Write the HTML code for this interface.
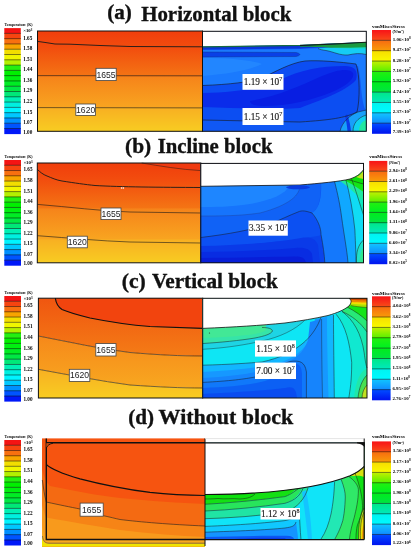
<!DOCTYPE html><html><head><meta charset="utf-8"><title>Temperature and von Mises stress</title><style>
html,body{margin:0;padding:0;background:#fff;width:415px;height:550px;overflow:hidden}
svg{display:block}
.tt{font-family:"Liberation Serif",serif;font-weight:bold;fill:#111;stroke:#111;stroke-width:0.35}
.cb{font-family:"Liberation Serif",serif;font-weight:bold;fill:#000}
.lb{font-family:"Liberation Sans",sans-serif;fill:#222}
.sl{font-family:"Liberation Serif",serif;fill:#222;stroke:#222;stroke-width:0.15}
</style></head><body>
<svg width="415" height="550" viewBox="0 0 415 550">
<defs>
<linearGradient id="tg" x1="0" y1="0" x2="0" y2="1">
<stop offset="0" stop-color="#f03e0c"/><stop offset="0.16" stop-color="#f24c0e"/>
<stop offset="0.45" stop-color="#f47414"/><stop offset="0.46" stop-color="#f6841a"/>
<stop offset="0.76" stop-color="#f8a420"/><stop offset="0.77" stop-color="#f8b022"/>
<stop offset="1" stop-color="#f8cc22"/></linearGradient>
<linearGradient id="sg0" x1="0" y1="0" x2="0" y2="1"><stop offset="0.1" stop-color="#f81818"/><stop offset="0.9" stop-color="#f84818"/></linearGradient>
<linearGradient id="sg1" x1="0" y1="0" x2="0" y2="1"><stop offset="0.1" stop-color="#f87010"/><stop offset="0.9" stop-color="#f89808"/></linearGradient>
<linearGradient id="sg2" x1="0" y1="0" x2="0" y2="1"><stop offset="0.1" stop-color="#f8e000"/><stop offset="0.9" stop-color="#f8f800"/></linearGradient>
<linearGradient id="sg3" x1="0" y1="0" x2="0" y2="1"><stop offset="0.1" stop-color="#b8f000"/><stop offset="0.9" stop-color="#60f000"/></linearGradient>
<linearGradient id="sg4" x1="0" y1="0" x2="0" y2="1"><stop offset="0.1" stop-color="#20f010"/><stop offset="0.9" stop-color="#00f020"/></linearGradient>
<linearGradient id="sg5" x1="0" y1="0" x2="0" y2="1"><stop offset="0.1" stop-color="#00ec20"/><stop offset="0.9" stop-color="#00e440"/></linearGradient>
<linearGradient id="sg6" x1="0" y1="0" x2="0" y2="1"><stop offset="0.1" stop-color="#00e88c"/><stop offset="0.9" stop-color="#00e8b8"/></linearGradient>
<linearGradient id="sg7" x1="0" y1="0" x2="0" y2="1"><stop offset="0.1" stop-color="#00f4f0"/><stop offset="0.9" stop-color="#00f8ff"/></linearGradient>
<linearGradient id="sg8" x1="0" y1="0" x2="0" y2="1"><stop offset="0.1" stop-color="#10c0ff"/><stop offset="0.9" stop-color="#1090ff"/></linearGradient>
<linearGradient id="sg9" x1="0" y1="0" x2="0" y2="1"><stop offset="0.1" stop-color="#0048ff"/><stop offset="0.9" stop-color="#0018f0"/></linearGradient>
</defs>
<text class="tt" x="107.2" y="18.8" font-size="20.2" textLength="24.6" lengthAdjust="spacingAndGlyphs">(a)</text>
<text class="tt" x="141.2" y="20.9" font-size="21" textLength="150.2" lengthAdjust="spacingAndGlyphs">Horizontal block</text>
<rect x="4.3" y="28.10" width="16.50" height="5.59" fill="#f41414"/>
<rect x="4.3" y="33.39" width="16.50" height="5.59" fill="#f64410"/>
<rect x="4.3" y="38.67" width="16.50" height="5.59" fill="#f87010"/>
<rect x="4.3" y="43.96" width="16.50" height="5.59" fill="#f8a400"/>
<rect x="4.3" y="49.24" width="16.50" height="5.59" fill="#f2de00"/>
<rect x="4.3" y="54.53" width="16.50" height="5.59" fill="#f0f600"/>
<rect x="4.3" y="59.81" width="16.50" height="5.59" fill="#b4f000"/>
<rect x="4.3" y="65.09" width="16.50" height="5.59" fill="#24f010"/>
<rect x="4.3" y="70.38" width="16.50" height="5.59" fill="#00f000"/>
<rect x="4.3" y="75.67" width="16.50" height="5.59" fill="#00f010"/>
<rect x="4.3" y="80.95" width="16.50" height="5.59" fill="#00ec24"/>
<rect x="4.3" y="86.24" width="16.50" height="5.59" fill="#00e844"/>
<rect x="4.3" y="91.52" width="16.50" height="5.59" fill="#00e878"/>
<rect x="4.3" y="96.81" width="16.50" height="5.59" fill="#00f0b4"/>
<rect x="4.3" y="102.09" width="16.50" height="5.59" fill="#00f0e0"/>
<rect x="4.3" y="107.38" width="16.50" height="5.59" fill="#00f4ff"/>
<rect x="4.3" y="112.66" width="16.50" height="5.59" fill="#00c8ff"/>
<rect x="4.3" y="117.95" width="16.50" height="5.59" fill="#0090ff"/>
<rect x="4.3" y="123.23" width="16.50" height="5.59" fill="#0054ff"/>
<rect x="4.3" y="128.52" width="16.50" height="5.59" fill="#0018f8"/>
<line x1="4.3" y1="33.39" x2="20.8" y2="33.39" stroke="#000" stroke-opacity="0.55" stroke-width="0.9"/>
<line x1="4.3" y1="38.67" x2="20.8" y2="38.67" stroke="#000" stroke-opacity="0.55" stroke-width="0.9"/>
<line x1="4.3" y1="43.96" x2="20.8" y2="43.96" stroke="#000" stroke-opacity="0.55" stroke-width="0.9"/>
<line x1="4.3" y1="49.24" x2="20.8" y2="49.24" stroke="#000" stroke-opacity="0.55" stroke-width="0.9"/>
<line x1="4.3" y1="54.53" x2="20.8" y2="54.53" stroke="#000" stroke-opacity="0.55" stroke-width="0.9"/>
<line x1="4.3" y1="59.81" x2="20.8" y2="59.81" stroke="#000" stroke-opacity="0.55" stroke-width="0.9"/>
<line x1="4.3" y1="65.09" x2="20.8" y2="65.09" stroke="#000" stroke-opacity="0.55" stroke-width="0.9"/>
<line x1="4.3" y1="70.38" x2="20.8" y2="70.38" stroke="#000" stroke-opacity="0.55" stroke-width="0.9"/>
<line x1="4.3" y1="75.67" x2="20.8" y2="75.67" stroke="#000" stroke-opacity="0.55" stroke-width="0.9"/>
<line x1="4.3" y1="80.95" x2="20.8" y2="80.95" stroke="#000" stroke-opacity="0.55" stroke-width="0.9"/>
<line x1="4.3" y1="86.24" x2="20.8" y2="86.24" stroke="#000" stroke-opacity="0.55" stroke-width="0.9"/>
<line x1="4.3" y1="91.52" x2="20.8" y2="91.52" stroke="#000" stroke-opacity="0.55" stroke-width="0.9"/>
<line x1="4.3" y1="96.81" x2="20.8" y2="96.81" stroke="#000" stroke-opacity="0.55" stroke-width="0.9"/>
<line x1="4.3" y1="102.09" x2="20.8" y2="102.09" stroke="#000" stroke-opacity="0.55" stroke-width="0.9"/>
<line x1="4.3" y1="107.38" x2="20.8" y2="107.38" stroke="#000" stroke-opacity="0.55" stroke-width="0.9"/>
<line x1="4.3" y1="112.66" x2="20.8" y2="112.66" stroke="#000" stroke-opacity="0.55" stroke-width="0.9"/>
<line x1="4.3" y1="117.95" x2="20.8" y2="117.95" stroke="#000" stroke-opacity="0.55" stroke-width="0.9"/>
<line x1="4.3" y1="123.23" x2="20.8" y2="123.23" stroke="#000" stroke-opacity="0.55" stroke-width="0.9"/>
<line x1="4.3" y1="128.52" x2="20.8" y2="128.52" stroke="#000" stroke-opacity="0.55" stroke-width="0.9"/>
<text class="cb" x="4.6" y="26.30" font-size="3.9" textLength="28" lengthAdjust="spacingAndGlyphs">Temperature (K)</text>
<text class="cb" x="23.2" y="31.70" font-size="4.8">×10<tspan font-size="3.2" dy="-1.0">3</tspan></text>
<text class="cb" x="23.2" y="39.57" font-size="5.2">1.65</text>
<text class="cb" x="23.2" y="50.14" font-size="5.2">1.58</text>
<text class="cb" x="23.2" y="60.71" font-size="5.2">1.51</text>
<text class="cb" x="23.2" y="71.28" font-size="5.2">1.44</text>
<text class="cb" x="23.2" y="81.85" font-size="5.2">1.36</text>
<text class="cb" x="23.2" y="92.42" font-size="5.2">1.29</text>
<text class="cb" x="23.2" y="102.99" font-size="5.2">1.22</text>
<text class="cb" x="23.2" y="113.56" font-size="5.2">1.15</text>
<text class="cb" x="23.2" y="124.13" font-size="5.2">1.07</text>
<text class="cb" x="23.2" y="133.80" font-size="5.2">1.00</text>
<rect x="37.5" y="31" width="165" height="100.3" fill="url(#tg)"/>
<path d="M37.5 41.4 L46 42.6 L55 44 L70 44.2 L100 45.5 L130 46.5 L202.5 46.8" fill="none" stroke="#1a1a1a" stroke-width="0.9"/>
<path d="M37.5 75.6 L202.5 75.8" fill="none" stroke="#1a1a1a" stroke-width="0.6"/>
<path d="M37.5 107.6 L202.5 107.9" fill="none" stroke="#1a1a1a" stroke-width="0.6"/>
<rect x="37.5" y="31" width="165" height="100.3" fill="none" stroke="#111" stroke-width="1"/>
<rect x="96.0" y="68.3" width="20.20" height="12.30" fill="#fff" stroke="#444" stroke-width="0.8"/>
<text class="lb" x="106.10" y="77.55" font-size="8.6" text-anchor="middle">1655</text>
<rect x="75.8" y="104" width="19.70" height="11.40" fill="#fff" stroke="#444" stroke-width="0.8"/>
<text class="lb" x="85.65" y="112.80" font-size="8.6" text-anchor="middle">1620</text>
<path d="M202.5 31.3 H366.3 V131.3 H202.5Z" fill="#1258f2"/>
<path d="M202.5 50 L300 49 L366.3 46 V112 C360 100 362 80 358 66 C340 62 320 61 305 61 C290 63 275 72 262 78 C250 82 230 84.5 202.5 85.5Z" fill="#1a7afe"/>
<path d="M202.5 58 C230 58 250 60 262 64 C250 70 230 74 202.5 76Z" fill="#2286ff"/>
<path d="M202.5 52 L296 52.5 C301 53.5 301 55.5 296 56.5 L202.5 57Z" fill="#0a40e6"/>
<path d="M202.5 85.5 C230 84.5 250 82 262 78 C275 72 290 63 305 61 C320 60 340 62 356 64 C360 75 360 100 357 112 C345 118 330 120 300 122 L202.5 120Z" fill="#0c4ef2"/>
<path d="M202.5 93 C240 92 262 88 280 80 C300 70 320 66 345 66 C356 66 358 72 356 80 C345 92 320 100 300 108 C270 110 240 108 202.5 107Z" fill="#0a2cea"/>
<path d="M250 101 C275 97 300 86 322 76 C338 69 350 68 353 73 C355 79 346 86 332 92 C312 100 290 106 262 106 C255 106 250 104 250 101Z" fill="#081ee2"/>
<path d="M202.5 120 L300 122 C330 120 345 118 357 112 L366.3 112 V131.3 H202.5Z" fill="#1058f4"/>
<path d="M340 131.3 C342 122 350 115 358 112 L366.3 110 V131.3Z" fill="#18a0fa"/>
<path d="M353 131.3 C353 124 357 118 366.3 115 V131.3Z" fill="#10d0f0"/>
<path d="M359 131.3 C359 126 361 122 366.3 120 V131.3Z" fill="#20e8a0"/>
<path d="M347 114 C349.5 120 350.5 126 351 131.3 H347.5 C347 125 346 120 345 116Z" fill="#0a3ce8"/>
<path d="M318 48.5 C335 47 350 46 366.3 45 V54.5 C360 53 355 53.5 348 55 C340 55.5 334 52 326 50.5 C322 50 320 49.5 318 48.5Z" fill="#16ccf4"/>
<path d="M335 47 L366.3 44 V49 C355 49 345 49 335 48Z" fill="#10d8d0"/>
<path d="M202.5 47.2 L300 45.5 L366.3 42.5 V44.5 L300 48.5 L202.5 49.5Z" fill="#0a34d8"/>
<path d="M202.5 85.5 C230 84.5 250 82 262 78 C275 72 290 63 305 61 C320 60 340 62 356 64 C360 75 360 100 357 112 C345 118 330 120 300 122 L202.5 120" fill="none" stroke="#1a1a1a" stroke-width="0.6"/>
<path d="M202.5 52 L296 52.5 C301 53.5 301 55.5 296 56.5 L202.5 57" fill="none" stroke="#102a80" stroke-width="0.4"/>
<path d="M318 48.5 C320 49.5 322 50 326 50.5 C334 52 340 55.5 348 55 C355 53.5 360 53 366.3 54.5" fill="none" stroke="#1a1a1a" stroke-width="0.5"/>
<path d="M340 131.3 C342 122 350 115 358 112 L366.3 110" fill="none" stroke="#1a1a1a" stroke-width="0.5"/>
<path d="M353 131.3 C353 124 357 118 366.3 115" fill="none" stroke="#1a1a1a" stroke-width="0.5"/>
<path d="M202.5 31.3 H366.3 V42.1 L330 43.5 L300 45 L202.5 46.6Z" fill="#fff"/>
<path d="M202.5 46.9 L300 45.4 L330 44 L366.3 42.5" fill="none" stroke="#176a40" stroke-width="1.1"/>
<path d="M300 45.8 L340 44 L366.3 42.3 V47.2 C355 47.5 345 47.8 335 47.8 C325 47.5 315 47 300 46.8Z" fill="#1a9a40"/>
<path d="M300 45.6 L340 43.8 L366.3 42.2" fill="none" stroke="#111" stroke-width="0.9"/>
<rect x="202.5" y="31.3" width="163.8" height="100.0" fill="none" stroke="#111" stroke-width="1"/>
<rect x="242.5" y="74" width="41.00" height="15.80" fill="#fff"/>
<text class="sl" x="263.00" y="85.25" font-size="9.3" text-anchor="middle">1.19 × 10<tspan font-size="6.05" dy="-3.91">7</tspan></text>
<rect x="242.5" y="108" width="41.00" height="17.00" fill="#fff"/>
<text class="sl" x="263.00" y="119.85" font-size="9.3" text-anchor="middle">1.15 × 10<tspan font-size="6.05" dy="-3.91">7</tspan></text>
<rect x="372" y="30.00" width="19.00" height="10.65" fill="url(#sg0)"/>
<rect x="372" y="40.35" width="19.00" height="10.65" fill="url(#sg1)"/>
<rect x="372" y="50.70" width="19.00" height="10.65" fill="url(#sg2)"/>
<rect x="372" y="61.05" width="19.00" height="10.65" fill="url(#sg3)"/>
<rect x="372" y="71.40" width="19.00" height="10.65" fill="url(#sg4)"/>
<rect x="372" y="81.75" width="19.00" height="10.65" fill="url(#sg5)"/>
<rect x="372" y="92.10" width="19.00" height="10.65" fill="url(#sg6)"/>
<rect x="372" y="102.45" width="19.00" height="10.65" fill="url(#sg7)"/>
<rect x="372" y="112.80" width="19.00" height="10.65" fill="url(#sg8)"/>
<rect x="372" y="123.15" width="19.00" height="10.65" fill="url(#sg9)"/>
<line x1="372" y1="40.35" x2="391" y2="40.35" stroke="#000" stroke-opacity="0.55" stroke-width="0.9"/>
<line x1="372" y1="50.70" x2="391" y2="50.70" stroke="#000" stroke-opacity="0.55" stroke-width="0.9"/>
<line x1="372" y1="61.05" x2="391" y2="61.05" stroke="#000" stroke-opacity="0.55" stroke-width="0.9"/>
<line x1="372" y1="71.40" x2="391" y2="71.40" stroke="#000" stroke-opacity="0.55" stroke-width="0.9"/>
<line x1="372" y1="81.75" x2="391" y2="81.75" stroke="#000" stroke-opacity="0.55" stroke-width="0.9"/>
<line x1="372" y1="92.10" x2="391" y2="92.10" stroke="#000" stroke-opacity="0.55" stroke-width="0.9"/>
<line x1="372" y1="102.45" x2="391" y2="102.45" stroke="#000" stroke-opacity="0.55" stroke-width="0.9"/>
<line x1="372" y1="112.80" x2="391" y2="112.80" stroke="#000" stroke-opacity="0.55" stroke-width="0.9"/>
<line x1="372" y1="123.15" x2="391" y2="123.15" stroke="#000" stroke-opacity="0.55" stroke-width="0.9"/>
<text class="cb" x="372" y="28.10" font-size="4.6" textLength="33" lengthAdjust="spacingAndGlyphs">vonMisesStress</text>
<text class="cb" x="392.5" y="32.60" font-size="4.0">(N/m<tspan font-size="2.6" dy="-1.4">2</tspan><tspan dy="1.4">)</tspan></text>
<text class="cb" x="392.8" y="40.95" font-size="4.9">1.06×10<tspan font-size="3.3" dy="-1.6">8</tspan></text>
<text class="cb" x="392.8" y="51.30" font-size="4.9">9.47×10<tspan font-size="3.3" dy="-1.6">7</tspan></text>
<text class="cb" x="392.8" y="61.65" font-size="4.9">8.28×10<tspan font-size="3.3" dy="-1.6">7</tspan></text>
<text class="cb" x="392.8" y="72.00" font-size="4.9">7.10×10<tspan font-size="3.3" dy="-1.6">7</tspan></text>
<text class="cb" x="392.8" y="82.35" font-size="4.9">5.92×10<tspan font-size="3.3" dy="-1.6">7</tspan></text>
<text class="cb" x="392.8" y="92.70" font-size="4.9">4.74×10<tspan font-size="3.3" dy="-1.6">7</tspan></text>
<text class="cb" x="392.8" y="103.05" font-size="4.9">3.55×10<tspan font-size="3.3" dy="-1.6">7</tspan></text>
<text class="cb" x="392.8" y="113.40" font-size="4.9">2.37×10<tspan font-size="3.3" dy="-1.6">7</tspan></text>
<text class="cb" x="392.8" y="123.75" font-size="4.9">1.19×10<tspan font-size="3.3" dy="-1.6">7</tspan></text>
<text class="cb" x="392.8" y="133.10" font-size="4.9">7.39×10<tspan font-size="3.3" dy="-1.6">5</tspan></text>
<text class="tt" x="125.0" y="153.4" font-size="20.2" textLength="26.2" lengthAdjust="spacingAndGlyphs">(b)</text>
<text class="tt" x="157.7" y="153.4" font-size="21" textLength="114.8" lengthAdjust="spacingAndGlyphs">Incline block</text>
<rect x="4.3" y="160.00" width="16.70" height="5.57" fill="#f41414"/>
<rect x="4.3" y="165.27" width="16.70" height="5.57" fill="#f64410"/>
<rect x="4.3" y="170.54" width="16.70" height="5.57" fill="#f87010"/>
<rect x="4.3" y="175.81" width="16.70" height="5.57" fill="#f8a400"/>
<rect x="4.3" y="181.08" width="16.70" height="5.57" fill="#f2de00"/>
<rect x="4.3" y="186.35" width="16.70" height="5.57" fill="#f0f600"/>
<rect x="4.3" y="191.62" width="16.70" height="5.57" fill="#b4f000"/>
<rect x="4.3" y="196.89" width="16.70" height="5.57" fill="#24f010"/>
<rect x="4.3" y="202.16" width="16.70" height="5.57" fill="#00f000"/>
<rect x="4.3" y="207.43" width="16.70" height="5.57" fill="#00f010"/>
<rect x="4.3" y="212.70" width="16.70" height="5.57" fill="#00ec24"/>
<rect x="4.3" y="217.97" width="16.70" height="5.57" fill="#00e844"/>
<rect x="4.3" y="223.24" width="16.70" height="5.57" fill="#00e878"/>
<rect x="4.3" y="228.51" width="16.70" height="5.57" fill="#00f0b4"/>
<rect x="4.3" y="233.78" width="16.70" height="5.57" fill="#00f0e0"/>
<rect x="4.3" y="239.05" width="16.70" height="5.57" fill="#00f4ff"/>
<rect x="4.3" y="244.32" width="16.70" height="5.57" fill="#00c8ff"/>
<rect x="4.3" y="249.59" width="16.70" height="5.57" fill="#0090ff"/>
<rect x="4.3" y="254.86" width="16.70" height="5.57" fill="#0054ff"/>
<rect x="4.3" y="260.13" width="16.70" height="5.57" fill="#0018f8"/>
<line x1="4.3" y1="165.27" x2="21" y2="165.27" stroke="#000" stroke-opacity="0.55" stroke-width="0.9"/>
<line x1="4.3" y1="170.54" x2="21" y2="170.54" stroke="#000" stroke-opacity="0.55" stroke-width="0.9"/>
<line x1="4.3" y1="175.81" x2="21" y2="175.81" stroke="#000" stroke-opacity="0.55" stroke-width="0.9"/>
<line x1="4.3" y1="181.08" x2="21" y2="181.08" stroke="#000" stroke-opacity="0.55" stroke-width="0.9"/>
<line x1="4.3" y1="186.35" x2="21" y2="186.35" stroke="#000" stroke-opacity="0.55" stroke-width="0.9"/>
<line x1="4.3" y1="191.62" x2="21" y2="191.62" stroke="#000" stroke-opacity="0.55" stroke-width="0.9"/>
<line x1="4.3" y1="196.89" x2="21" y2="196.89" stroke="#000" stroke-opacity="0.55" stroke-width="0.9"/>
<line x1="4.3" y1="202.16" x2="21" y2="202.16" stroke="#000" stroke-opacity="0.55" stroke-width="0.9"/>
<line x1="4.3" y1="207.43" x2="21" y2="207.43" stroke="#000" stroke-opacity="0.55" stroke-width="0.9"/>
<line x1="4.3" y1="212.70" x2="21" y2="212.70" stroke="#000" stroke-opacity="0.55" stroke-width="0.9"/>
<line x1="4.3" y1="217.97" x2="21" y2="217.97" stroke="#000" stroke-opacity="0.55" stroke-width="0.9"/>
<line x1="4.3" y1="223.24" x2="21" y2="223.24" stroke="#000" stroke-opacity="0.55" stroke-width="0.9"/>
<line x1="4.3" y1="228.51" x2="21" y2="228.51" stroke="#000" stroke-opacity="0.55" stroke-width="0.9"/>
<line x1="4.3" y1="233.78" x2="21" y2="233.78" stroke="#000" stroke-opacity="0.55" stroke-width="0.9"/>
<line x1="4.3" y1="239.05" x2="21" y2="239.05" stroke="#000" stroke-opacity="0.55" stroke-width="0.9"/>
<line x1="4.3" y1="244.32" x2="21" y2="244.32" stroke="#000" stroke-opacity="0.55" stroke-width="0.9"/>
<line x1="4.3" y1="249.59" x2="21" y2="249.59" stroke="#000" stroke-opacity="0.55" stroke-width="0.9"/>
<line x1="4.3" y1="254.86" x2="21" y2="254.86" stroke="#000" stroke-opacity="0.55" stroke-width="0.9"/>
<line x1="4.3" y1="260.13" x2="21" y2="260.13" stroke="#000" stroke-opacity="0.55" stroke-width="0.9"/>
<text class="cb" x="4.6" y="157.70" font-size="3.9" textLength="28" lengthAdjust="spacingAndGlyphs">Temperature (K)</text>
<text class="cb" x="23.4" y="163.60" font-size="4.8">×10<tspan font-size="3.2" dy="-1.0">3</tspan></text>
<text class="cb" x="23.4" y="171.44" font-size="5.2">1.65</text>
<text class="cb" x="23.4" y="181.98" font-size="5.2">1.58</text>
<text class="cb" x="23.4" y="192.52" font-size="5.2">1.51</text>
<text class="cb" x="23.4" y="203.06" font-size="5.2">1.44</text>
<text class="cb" x="23.4" y="213.60" font-size="5.2">1.36</text>
<text class="cb" x="23.4" y="224.14" font-size="5.2">1.29</text>
<text class="cb" x="23.4" y="234.68" font-size="5.2">1.22</text>
<text class="cb" x="23.4" y="245.22" font-size="5.2">1.15</text>
<text class="cb" x="23.4" y="255.76" font-size="5.2">1.07</text>
<text class="cb" x="23.4" y="265.40" font-size="5.2">1.00</text>
<rect x="37.3" y="163" width="163.5" height="99.8" fill="url(#tg)"/>
<path d="M141.7 163 C160 166 180 169.5 200.7 170.6 L200.7 163Z" fill="#f03a10"/>
<path d="M141.7 163 C160 166 180 169.5 200.7 170.6" fill="none" stroke="#1a1a1a" stroke-width="0.5"/>
<path d="M37.5 169.5 C40 172 43 174.5 47 176 C52 178 56 180 62 181 C75 183 85 184.5 95 185.5 C120 187 160 187.3 200.7 187.5" fill="none" stroke="#1a1a1a" stroke-width="0.9"/>
<path d="M37.5 204.4 C70 207 100 211 130 212 L200.7 213" fill="none" stroke="#1a1a1a" stroke-width="0.6"/>
<path d="M37.5 235.7 C70 238 100 241 130 242 L200.7 243" fill="none" stroke="#1a1a1a" stroke-width="0.6"/>
<rect x="37.3" y="163" width="163.5" height="99.8" fill="none" stroke="#111" stroke-width="1"/>
<circle cx="121.6" cy="188" r="0.8" fill="#fff"/><circle cx="123.4" cy="188" r="0.8" fill="#fff"/>
<rect x="101" y="208" width="20.00" height="11.60" fill="#fff" stroke="#444" stroke-width="0.8"/>
<text class="lb" x="111.00" y="216.90" font-size="8.6" text-anchor="middle">1655</text>
<rect x="67.3" y="236.2" width="20.00" height="11.60" fill="#fff" stroke="#444" stroke-width="0.8"/>
<text class="lb" x="77.30" y="245.10" font-size="8.6" text-anchor="middle">1620</text>
<path d="M200.8 163.4 H363.5 V262.8 H200.8Z" fill="#0a3ce8"/>
<path d="M200.8 186 L330 182 L335 262.8 H200.8Z" fill="#0a44ec"/>
<path d="M200.8 186 L320 183 C322 200 324 215 322 235 C300 240 250 245 200.8 248Z" fill="#0c50f2"/>
<path d="M200.8 186 L321 183 C321 200 318 210 312 213 C306 211 302 210 298 212 C290 215 280 220 270 224 C250 230 230 234 200.8 237.5Z" fill="#1062f6"/>
<path d="M200.8 186 L300 185 C300 195 290 205 260 213 C240 216 220 216 200.8 216Z" fill="#1674fc"/>
<path d="M200.8 186 L290 185 C285 195 270 200 250 204 C230 207 215 207 200.8 207Z" fill="#1e86ff"/>
<path d="M200.8 246 C240 245 270 243 295 239 C308 236 315 237 318 245 L320 262.8 H200.8Z" fill="#0a3ae8"/>
<path d="M200.8 252 C240 251.5 270 250 295 248 C305 247 310 249 312 254 L313 262.8 H200.8Z" fill="#082ce2"/>
<path d="M200.8 258 C240 257.5 270 257 295 256.5 C302 256.5 305 258 306 262.8 H200.8Z" fill="#081ed8"/>
<path d="M312 213 C318 220 321 228 321 234.5 C323 245 324.5 255 324.8 262.8 H363.5 V170Z" fill="#1066f6"/>
<path d="M321 183 C322 200 318 210 312 213 C318 220 321 228 321 234.5 C323 245 324.5 255 324.8 262.8 H363.5 V170Z" fill="#1478fc"/>
<path d="M334.4 181 C338 195 340 205 341.6 217 C344 235 347 250 348 262.8 H363.5 V170Z" fill="#10a8ff"/>
<path d="M345.2 177 C350 195 353 212 354.9 230 C355.5 245 356 255 356 262.8 H363.5 V170Z" fill="#10dcf4"/>
<path d="M348 178 C356 190 360 205 363.5 215 V170Z" fill="#10e8c0"/>
<path d="M340 181 C350 188 357 195 363.5 201 V170Z" fill="#20e8a0"/>
<path d="M344 180 C352 184 358 188 363.5 192 V170Z" fill="#14e418"/>
<path d="M347 179.5 C354 181 359 183 363.5 184 V170Z" fill="#0ce00c"/>
<path d="M356 177 C359 176 361.5 174 363.5 170 V179 C361 178.5 358.5 178 356 177Z" fill="#c0e020"/>
<path d="M356.5 262.8 C356 252 358 245 363.5 240 V262.8Z" fill="#20e0c8"/>
<path d="M359.5 262.8 C360 255 361 250 363.5 248 V262.8Z" fill="#30e890"/>
<path d="M200.8 237.5 C230 234 250 230 270 224 C280 220 290 215 298 212 C302 210 306 211 312 213 C318 220 321 228 321 234.5 C323 245 324.5 255 324.8 262.8" fill="none" stroke="#1a1a1a" stroke-width="0.5"/>
<path d="M334.4 181 C338 195 340 205 341.6 217 C344 235 347 250 348 262.8" fill="none" stroke="#1a1a1a" stroke-width="0.5"/>
<path d="M345.2 177 C350 195 353 212 354.9 230 C355.5 245 356 255 356 262.8" fill="none" stroke="#1a1a1a" stroke-width="0.5"/>
<path d="M350 175 C356 190 360 205 363.5 215" fill="none" stroke="#1a1a1a" stroke-width="0.5"/>
<path d="M347 179.5 C354 181 359 183 363.5 184" fill="none" stroke="#1a1a1a" stroke-width="0.5"/>
<path d="M356.5 262.8 C356 252 358 245 363.5 240" fill="none" stroke="#1a1a1a" stroke-width="0.5"/>
<path d="M200.8 216 C220 216 240 216 260 213 C290 205 300 195 300 185" fill="none" stroke="#204090" stroke-width="0.4"/>
<path d="M200.8 163.4 H363.5 V169.8 C360 174.5 356 177 350 179 C340 181.5 320 183.3 300 185 L200.8 186.3Z" fill="#fff"/>
<path d="M200.8 186.3 L300 185 C320 183.3 340 181.5 350 179 C356 177 360 174.5 363.5 169.8" fill="none" stroke="#111" stroke-width="0.8"/>
<ellipse cx="298" cy="187.3" rx="12" ry="2" fill="#0a3ce0"/>
<rect x="200.8" y="163.4" width="162.7" height="99.4" fill="none" stroke="#111" stroke-width="1"/>
<rect x="248.5" y="220.5" width="39.30" height="15.20" fill="#fff"/>
<text class="sl" x="268.15" y="231.45" font-size="9.3" text-anchor="middle">3.35 × 10<tspan font-size="6.05" dy="-3.91">7</tspan></text>
<rect x="369.2" y="160.90" width="18.10" height="10.60" fill="url(#sg0)"/>
<rect x="369.2" y="171.20" width="18.10" height="10.60" fill="url(#sg1)"/>
<rect x="369.2" y="181.50" width="18.10" height="10.60" fill="url(#sg2)"/>
<rect x="369.2" y="191.80" width="18.10" height="10.60" fill="url(#sg3)"/>
<rect x="369.2" y="202.10" width="18.10" height="10.60" fill="url(#sg4)"/>
<rect x="369.2" y="212.40" width="18.10" height="10.60" fill="url(#sg5)"/>
<rect x="369.2" y="222.70" width="18.10" height="10.60" fill="url(#sg6)"/>
<rect x="369.2" y="233.00" width="18.10" height="10.60" fill="url(#sg7)"/>
<rect x="369.2" y="243.30" width="18.10" height="10.60" fill="url(#sg8)"/>
<rect x="369.2" y="253.60" width="18.10" height="10.60" fill="url(#sg9)"/>
<line x1="369.2" y1="171.20" x2="387.3" y2="171.20" stroke="#000" stroke-opacity="0.55" stroke-width="0.9"/>
<line x1="369.2" y1="181.50" x2="387.3" y2="181.50" stroke="#000" stroke-opacity="0.55" stroke-width="0.9"/>
<line x1="369.2" y1="191.80" x2="387.3" y2="191.80" stroke="#000" stroke-opacity="0.55" stroke-width="0.9"/>
<line x1="369.2" y1="202.10" x2="387.3" y2="202.10" stroke="#000" stroke-opacity="0.55" stroke-width="0.9"/>
<line x1="369.2" y1="212.40" x2="387.3" y2="212.40" stroke="#000" stroke-opacity="0.55" stroke-width="0.9"/>
<line x1="369.2" y1="222.70" x2="387.3" y2="222.70" stroke="#000" stroke-opacity="0.55" stroke-width="0.9"/>
<line x1="369.2" y1="233.00" x2="387.3" y2="233.00" stroke="#000" stroke-opacity="0.55" stroke-width="0.9"/>
<line x1="369.2" y1="243.30" x2="387.3" y2="243.30" stroke="#000" stroke-opacity="0.55" stroke-width="0.9"/>
<line x1="369.2" y1="253.60" x2="387.3" y2="253.60" stroke="#000" stroke-opacity="0.55" stroke-width="0.9"/>
<text class="cb" x="369.2" y="158.00" font-size="4.6" textLength="33" lengthAdjust="spacingAndGlyphs">vonMisesStress</text>
<text class="cb" x="388.8" y="163.50" font-size="4.0">(N/m<tspan font-size="2.6" dy="-1.4">2</tspan><tspan dy="1.4">)</tspan></text>
<text class="cb" x="389.1" y="171.80" font-size="4.9">2.94×10<tspan font-size="3.3" dy="-1.6">8</tspan></text>
<text class="cb" x="389.1" y="182.10" font-size="4.9">2.61×10<tspan font-size="3.3" dy="-1.6">8</tspan></text>
<text class="cb" x="389.1" y="192.40" font-size="4.9">2.29×10<tspan font-size="3.3" dy="-1.6">8</tspan></text>
<text class="cb" x="389.1" y="202.70" font-size="4.9">1.96×10<tspan font-size="3.3" dy="-1.6">8</tspan></text>
<text class="cb" x="389.1" y="213.00" font-size="4.9">1.64×10<tspan font-size="3.3" dy="-1.6">8</tspan></text>
<text class="cb" x="389.1" y="223.30" font-size="4.9">1.31×10<tspan font-size="3.3" dy="-1.6">8</tspan></text>
<text class="cb" x="389.1" y="233.60" font-size="4.9">9.86×10<tspan font-size="3.3" dy="-1.6">7</tspan></text>
<text class="cb" x="389.1" y="243.90" font-size="4.9">6.60×10<tspan font-size="3.3" dy="-1.6">7</tspan></text>
<text class="cb" x="389.1" y="254.20" font-size="4.9">3.34×10<tspan font-size="3.3" dy="-1.6">7</tspan></text>
<text class="cb" x="389.1" y="263.50" font-size="4.9">8.02×10<tspan font-size="3.3" dy="-1.6">5</tspan></text>
<text class="tt" x="121.8" y="287.7" font-size="20.2" textLength="24.0" lengthAdjust="spacingAndGlyphs">(c)</text>
<text class="tt" x="151.9" y="287.8" font-size="21" textLength="126.0" lengthAdjust="spacingAndGlyphs">Vertical block</text>
<rect x="4.3" y="296.00" width="16.70" height="5.57" fill="#f41414"/>
<rect x="4.3" y="301.26" width="16.70" height="5.57" fill="#f64410"/>
<rect x="4.3" y="306.53" width="16.70" height="5.57" fill="#f87010"/>
<rect x="4.3" y="311.80" width="16.70" height="5.57" fill="#f8a400"/>
<rect x="4.3" y="317.06" width="16.70" height="5.57" fill="#f2de00"/>
<rect x="4.3" y="322.32" width="16.70" height="5.57" fill="#f0f600"/>
<rect x="4.3" y="327.59" width="16.70" height="5.57" fill="#b4f000"/>
<rect x="4.3" y="332.86" width="16.70" height="5.57" fill="#24f010"/>
<rect x="4.3" y="338.12" width="16.70" height="5.57" fill="#00f000"/>
<rect x="4.3" y="343.38" width="16.70" height="5.57" fill="#00f010"/>
<rect x="4.3" y="348.65" width="16.70" height="5.57" fill="#00ec24"/>
<rect x="4.3" y="353.92" width="16.70" height="5.57" fill="#00e844"/>
<rect x="4.3" y="359.18" width="16.70" height="5.57" fill="#00e878"/>
<rect x="4.3" y="364.44" width="16.70" height="5.57" fill="#00f0b4"/>
<rect x="4.3" y="369.71" width="16.70" height="5.57" fill="#00f0e0"/>
<rect x="4.3" y="374.98" width="16.70" height="5.57" fill="#00f4ff"/>
<rect x="4.3" y="380.24" width="16.70" height="5.57" fill="#00c8ff"/>
<rect x="4.3" y="385.50" width="16.70" height="5.57" fill="#0090ff"/>
<rect x="4.3" y="390.77" width="16.70" height="5.57" fill="#0054ff"/>
<rect x="4.3" y="396.04" width="16.70" height="5.57" fill="#0018f8"/>
<line x1="4.3" y1="301.26" x2="21" y2="301.26" stroke="#000" stroke-opacity="0.55" stroke-width="0.9"/>
<line x1="4.3" y1="306.53" x2="21" y2="306.53" stroke="#000" stroke-opacity="0.55" stroke-width="0.9"/>
<line x1="4.3" y1="311.80" x2="21" y2="311.80" stroke="#000" stroke-opacity="0.55" stroke-width="0.9"/>
<line x1="4.3" y1="317.06" x2="21" y2="317.06" stroke="#000" stroke-opacity="0.55" stroke-width="0.9"/>
<line x1="4.3" y1="322.32" x2="21" y2="322.32" stroke="#000" stroke-opacity="0.55" stroke-width="0.9"/>
<line x1="4.3" y1="327.59" x2="21" y2="327.59" stroke="#000" stroke-opacity="0.55" stroke-width="0.9"/>
<line x1="4.3" y1="332.86" x2="21" y2="332.86" stroke="#000" stroke-opacity="0.55" stroke-width="0.9"/>
<line x1="4.3" y1="338.12" x2="21" y2="338.12" stroke="#000" stroke-opacity="0.55" stroke-width="0.9"/>
<line x1="4.3" y1="343.38" x2="21" y2="343.38" stroke="#000" stroke-opacity="0.55" stroke-width="0.9"/>
<line x1="4.3" y1="348.65" x2="21" y2="348.65" stroke="#000" stroke-opacity="0.55" stroke-width="0.9"/>
<line x1="4.3" y1="353.92" x2="21" y2="353.92" stroke="#000" stroke-opacity="0.55" stroke-width="0.9"/>
<line x1="4.3" y1="359.18" x2="21" y2="359.18" stroke="#000" stroke-opacity="0.55" stroke-width="0.9"/>
<line x1="4.3" y1="364.44" x2="21" y2="364.44" stroke="#000" stroke-opacity="0.55" stroke-width="0.9"/>
<line x1="4.3" y1="369.71" x2="21" y2="369.71" stroke="#000" stroke-opacity="0.55" stroke-width="0.9"/>
<line x1="4.3" y1="374.98" x2="21" y2="374.98" stroke="#000" stroke-opacity="0.55" stroke-width="0.9"/>
<line x1="4.3" y1="380.24" x2="21" y2="380.24" stroke="#000" stroke-opacity="0.55" stroke-width="0.9"/>
<line x1="4.3" y1="385.50" x2="21" y2="385.50" stroke="#000" stroke-opacity="0.55" stroke-width="0.9"/>
<line x1="4.3" y1="390.77" x2="21" y2="390.77" stroke="#000" stroke-opacity="0.55" stroke-width="0.9"/>
<line x1="4.3" y1="396.04" x2="21" y2="396.04" stroke="#000" stroke-opacity="0.55" stroke-width="0.9"/>
<text class="cb" x="4.6" y="293.60" font-size="3.9" textLength="28" lengthAdjust="spacingAndGlyphs">Temperature (K)</text>
<text class="cb" x="23.4" y="299.60" font-size="4.8">×10<tspan font-size="3.2" dy="-1.0">3</tspan></text>
<text class="cb" x="23.4" y="307.43" font-size="5.2">1.65</text>
<text class="cb" x="23.4" y="317.96" font-size="5.2">1.58</text>
<text class="cb" x="23.4" y="328.49" font-size="5.2">1.51</text>
<text class="cb" x="23.4" y="339.02" font-size="5.2">1.44</text>
<text class="cb" x="23.4" y="349.55" font-size="5.2">1.36</text>
<text class="cb" x="23.4" y="360.08" font-size="5.2">1.29</text>
<text class="cb" x="23.4" y="370.61" font-size="5.2">1.22</text>
<text class="cb" x="23.4" y="381.14" font-size="5.2">1.15</text>
<text class="cb" x="23.4" y="391.67" font-size="5.2">1.07</text>
<text class="cb" x="23.4" y="401.30" font-size="5.2">1.00</text>
<linearGradient id="cB" x1="0" y1="0" x2="0" y2="1"><stop offset="0" stop-color="#f05610"/><stop offset="1" stop-color="#f47c16"/></linearGradient>
<linearGradient id="cC" x1="0" y1="0" x2="0" y2="1"><stop offset="0" stop-color="#f6881a"/><stop offset="1" stop-color="#f8a820"/></linearGradient>
<linearGradient id="cD" x1="0" y1="0" x2="0" y2="1"><stop offset="0" stop-color="#f8b022"/><stop offset="1" stop-color="#f8cc22"/></linearGradient>
<path d="M38.4 298.2 H202.7 V356 C180 356 160 355 130 352.5 C100 349 70 342 38.4 336Z" fill="url(#cB)"/>
<path d="M38.4 336 C70 342 100 349 130 352.5 C160 355 180 356 202.7 356 V388 C180 388 160 387 130 385 C100 381 70 375 38.4 369.3Z" fill="url(#cC)"/>
<path d="M38.4 369.3 C70 375 100 381 130 385 C160 387 180 388 202.7 388 V398 H38.4Z" fill="url(#cD)"/>
<path d="M55.3 298.2 C56 303 58 307 62 309.5 C70 313 78 315 90 318 C110 322 130 325 150 326.5 L202.7 328.4 L202.7 298.2Z" fill="#f2440e"/>
<path d="M55.3 298.2 C56 303 58 307 62 309.5 C70 313 78 315 90 318 C110 322 130 325 150 326.5 L202.7 328.4" fill="none" stroke="#111" stroke-width="1.1"/>
<path d="M38.4 336 C70 342 100 349 130 352.5 C160 355 180 356 202.7 356" fill="none" stroke="#1a1a1a" stroke-width="0.6"/>
<path d="M38.4 369.3 C70 375 100 381 130 385 C160 387 180 388 202.7 388" fill="none" stroke="#1a1a1a" stroke-width="0.6"/>
<rect x="38.4" y="298.2" width="164.3" height="99.8" fill="none" stroke="#111" stroke-width="1"/>
<rect x="95.8" y="343.6" width="20.20" height="12.40" fill="#fff" stroke="#444" stroke-width="0.8"/>
<text class="lb" x="105.90" y="352.90" font-size="8.6" text-anchor="middle">1655</text>
<rect x="69.3" y="369.3" width="20.50" height="12.10" fill="#fff" stroke="#444" stroke-width="0.8"/>
<text class="lb" x="79.55" y="378.45" font-size="8.6" text-anchor="middle">1620</text>
<path d="M202.7 298.3 H367 V398 H202.7Z" fill="#0ee6f4"/>
<path d="M202.7 349.3 C225 348 245 345 262 341 C280 337 295 330 305 320 L305 300 L202.7 300Z" fill="#1ed4e4"/>
<path d="M202.7 343.5 C220 342.5 240 340.5 255 338 C265 336 271 334 272.5 331 C272 328.5 268 327.5 262 327.5 L262 300 L202.7 300Z" fill="#36e4a8"/>
<path d="M202.7 338 C220 337.5 240 336 252 334.5 C262 333 267 331 266 328.5 L266 300 L202.7 300Z" fill="#42e896"/>
<path d="M202.7 365.2 C230 364.5 250 363 262 362 C280 358 292 352 302 344 C312 336 318 326 321 317 L333.5 315 C333.5 340 334 370 334.3 398 H202.7Z" fill="#12b6ff"/>
<path d="M202.7 372 C240 370 265 367 282 362 C298 356 308 346 313 332 L315 319 L327 317 C327 345 328 375 328.5 398 H202.7Z" fill="#1698ff"/>
<path d="M202.7 378 C240 376 260 372 278 366 C296 360 304 352 308 340 L310 322 L321.6 319 C321.6 345 322 375 322.5 398 H202.7Z" fill="#1684fc"/>
<path d="M202.7 382.4 C230 381 245 379 255 377 C270 372 280 364 290 361.5 C300 360 305 362 306.4 372 L306.4 398 H202.7Z" fill="#1078fa"/>
<path d="M202.7 388 C230 387 250 385 265 381 C280 376 290 366 296 364 C300 364 302 368 302 376 L302 398 H202.7Z" fill="#0c60f4"/>
<path d="M202.7 394 C240 392 270 390 285 388 C293 386 296 388 297 398 H202.7Z" fill="#0a4cf0"/>
<path d="M336.2 314.3 C345.9 325.8 349.7 343.2 351.7 362.4 C351.7 381.7 350 390 348.8 398 H367 V298.3Z" fill="#10e8d0"/>
<path d="M342 311.4 C353.6 320 361.3 333.5 364.2 352.8 C365 360 366 365 367 368 V298.3Z" fill="#18e8b0"/>
<path d="M347 307 C356 312 362 318 367 325 V298.3Z" fill="#30e878"/>
<path d="M367 368 C360 372 356 380 354 398 H367Z" fill="#20e8a8"/>
<path d="M367 375 C362 380 359 388 358 398 H367Z" fill="#48e050"/>
<path d="M367 385 C364 388 362 393 362 398 H367Z" fill="#c0e020"/>
<path d="M342 311.4 C352 316 360 322 367 332 V298.3 H349Z" fill="#28e878"/>
<path d="M347 307 C355 311 362 316 367 321 V298.3 H349Z" fill="#14e418"/>
<path d="M350 298.3 H367 V307.5 C360 307 355 306.5 350.5 305.5Z" fill="#a8e400"/>
<path d="M350 298.3 H367 V304.8 C360 304.5 355 304.2 351 303.8Z" fill="#f0e000"/>
<path d="M350 298.3 H367 V302.6 C360 302.4 355 302.2 351 302Z" fill="#f08800"/>
<path d="M350 298.3 H367 V300.4 C360 300.3 355 300.2 351 300.1Z" fill="#d04800"/>
<path d="M202.7 343.5 C220 342.5 240 340.5 255 338 C265 336 271 334 272.5 331 C272 328.5 268 327.5 262 327.5" fill="none" stroke="#1a1a1a" stroke-width="0.5"/>
<path d="M202.7 349.3 C225 348 245 345 262 341 C280 337 295 330 305 320" fill="none" stroke="#1a1a1a" stroke-width="0.4"/>
<path d="M202.7 365.2 C230 364.5 250 363 262 362 C280 358 292 352 302 344 C312 336 318 326 321 317" fill="none" stroke="#1a1a1a" stroke-width="0.5"/>
<path d="M202.7 382.4 C230 381 245 379 255 377 C270 372 280 364 290 361.5 C300 360 305 362 306.4 372 L306.4 398" fill="none" stroke="#1a1a1a" stroke-width="0.5"/>
<path d="M333.5 315 C333.5 340 334 370 334.3 398" fill="none" stroke="#1a1a1a" stroke-width="0.5"/>
<path d="M321.6 319 C321.6 345 322 375 322.5 398" fill="none" stroke="#1a1a1a" stroke-width="0.4"/>
<path d="M336.2 314.3 C345.9 325.8 349.7 343.2 351.7 362.4 C351.7 381.7 350 390 348.8 398" fill="none" stroke="#1a1a1a" stroke-width="0.5"/>
<path d="M342 311.4 C353.6 320 361.3 333.5 364.2 352.8 C365 360 366 365 367 368" fill="none" stroke="#1a1a1a" stroke-width="0.5"/>
<path d="M347 307 C355 311 362 316 367 321" fill="none" stroke="#1a1a1a" stroke-width="0.5"/>
<path d="M342 311.4 C352 316 360 322 367 332" fill="none" stroke="#1a1a1a" stroke-width="0.5"/>
<path d="M351 305.5 C355 306.5 360 307 367 307.5" fill="none" stroke="#1a1a1a" stroke-width="0.4"/>
<path d="M367 375 C362 380 359 388 358 398" fill="none" stroke="#1a1a1a" stroke-width="0.5"/>
<path d="M367 385 C364 388 362 393 362 398" fill="none" stroke="#1a1a1a" stroke-width="0.5"/>
<circle cx="209.5" cy="333" r="0.6" fill="#333"/>
<path d="M202.7 298.3 H349 C352 300 351.5 303 349 306 C344 310 337 313 328 315.5 C315 318.5 300 321 285 323 C260 325.5 235 327 202.7 328.4Z" fill="#fff"/>
<path d="M202.7 328.4 C235 327 260 325.5 285 323 C300 321 315 318.5 328 315.5 C337 313 344 310 349 306 C351.5 303 352 300 349 298.3" fill="none" stroke="#111" stroke-width="0.8"/>
<rect x="202.7" y="298.3" width="164.3" height="99.7" fill="none" stroke="#111" stroke-width="1"/>
<rect x="255" y="340.4" width="41.00" height="16.20" fill="#fff"/>
<text class="sl" x="275.50" y="351.85" font-size="9.3" text-anchor="middle">1.15 × 10<tspan font-size="6.05" dy="-3.91">8</tspan></text>
<rect x="255" y="362.6" width="41.00" height="16.40" fill="#fff"/>
<text class="sl" x="275.50" y="374.15" font-size="9.3" text-anchor="middle">7.00 × 10<tspan font-size="6.05" dy="-3.91">7</tspan></text>
<rect x="372" y="296.30" width="18.60" height="10.67" fill="url(#sg0)"/>
<rect x="372" y="306.67" width="18.60" height="10.67" fill="url(#sg1)"/>
<rect x="372" y="317.04" width="18.60" height="10.67" fill="url(#sg2)"/>
<rect x="372" y="327.41" width="18.60" height="10.67" fill="url(#sg3)"/>
<rect x="372" y="337.78" width="18.60" height="10.67" fill="url(#sg4)"/>
<rect x="372" y="348.15" width="18.60" height="10.67" fill="url(#sg5)"/>
<rect x="372" y="358.52" width="18.60" height="10.67" fill="url(#sg6)"/>
<rect x="372" y="368.89" width="18.60" height="10.67" fill="url(#sg7)"/>
<rect x="372" y="379.26" width="18.60" height="10.67" fill="url(#sg8)"/>
<rect x="372" y="389.63" width="18.60" height="10.67" fill="url(#sg9)"/>
<line x1="372" y1="306.67" x2="390.6" y2="306.67" stroke="#000" stroke-opacity="0.55" stroke-width="0.9"/>
<line x1="372" y1="317.04" x2="390.6" y2="317.04" stroke="#000" stroke-opacity="0.55" stroke-width="0.9"/>
<line x1="372" y1="327.41" x2="390.6" y2="327.41" stroke="#000" stroke-opacity="0.55" stroke-width="0.9"/>
<line x1="372" y1="337.78" x2="390.6" y2="337.78" stroke="#000" stroke-opacity="0.55" stroke-width="0.9"/>
<line x1="372" y1="348.15" x2="390.6" y2="348.15" stroke="#000" stroke-opacity="0.55" stroke-width="0.9"/>
<line x1="372" y1="358.52" x2="390.6" y2="358.52" stroke="#000" stroke-opacity="0.55" stroke-width="0.9"/>
<line x1="372" y1="368.89" x2="390.6" y2="368.89" stroke="#000" stroke-opacity="0.55" stroke-width="0.9"/>
<line x1="372" y1="379.26" x2="390.6" y2="379.26" stroke="#000" stroke-opacity="0.55" stroke-width="0.9"/>
<line x1="372" y1="389.63" x2="390.6" y2="389.63" stroke="#000" stroke-opacity="0.55" stroke-width="0.9"/>
<text class="cb" x="372" y="294.50" font-size="4.6" textLength="33" lengthAdjust="spacingAndGlyphs">vonMisesStress</text>
<text class="cb" x="392.1" y="298.90" font-size="4.0">(N/m<tspan font-size="2.6" dy="-1.4">2</tspan><tspan dy="1.4">)</tspan></text>
<text class="cb" x="392.40000000000003" y="307.27" font-size="4.9">4.04×10<tspan font-size="3.3" dy="-1.6">8</tspan></text>
<text class="cb" x="392.40000000000003" y="317.64" font-size="4.9">3.62×10<tspan font-size="3.3" dy="-1.6">8</tspan></text>
<text class="cb" x="392.40000000000003" y="328.01" font-size="4.9">3.21×10<tspan font-size="3.3" dy="-1.6">8</tspan></text>
<text class="cb" x="392.40000000000003" y="338.38" font-size="4.9">2.79×10<tspan font-size="3.3" dy="-1.6">8</tspan></text>
<text class="cb" x="392.40000000000003" y="348.75" font-size="4.9">2.37×10<tspan font-size="3.3" dy="-1.6">8</tspan></text>
<text class="cb" x="392.40000000000003" y="359.12" font-size="4.9">1.95×10<tspan font-size="3.3" dy="-1.6">8</tspan></text>
<text class="cb" x="392.40000000000003" y="369.49" font-size="4.9">1.53×10<tspan font-size="3.3" dy="-1.6">8</tspan></text>
<text class="cb" x="392.40000000000003" y="379.86" font-size="4.9">1.11×10<tspan font-size="3.3" dy="-1.6">8</tspan></text>
<text class="cb" x="392.40000000000003" y="390.23" font-size="4.9">6.95×10<tspan font-size="3.3" dy="-1.6">7</tspan></text>
<text class="cb" x="392.40000000000003" y="399.60" font-size="4.9">2.76×10<tspan font-size="3.3" dy="-1.6">7</tspan></text>
<text class="tt" x="128.2" y="423.5" font-size="20.2" textLength="25.8" lengthAdjust="spacingAndGlyphs">(d)</text>
<text class="tt" x="158.6" y="423.8" font-size="21" textLength="134.6" lengthAdjust="spacingAndGlyphs">Without block</text>
<rect x="4.3" y="440.00" width="16.70" height="5.56" fill="#f41414"/>
<rect x="4.3" y="445.26" width="16.70" height="5.56" fill="#f64410"/>
<rect x="4.3" y="450.52" width="16.70" height="5.56" fill="#f87010"/>
<rect x="4.3" y="455.78" width="16.70" height="5.56" fill="#f8a400"/>
<rect x="4.3" y="461.04" width="16.70" height="5.56" fill="#f2de00"/>
<rect x="4.3" y="466.30" width="16.70" height="5.56" fill="#f0f600"/>
<rect x="4.3" y="471.56" width="16.70" height="5.56" fill="#b4f000"/>
<rect x="4.3" y="476.82" width="16.70" height="5.56" fill="#24f010"/>
<rect x="4.3" y="482.08" width="16.70" height="5.56" fill="#00f000"/>
<rect x="4.3" y="487.34" width="16.70" height="5.56" fill="#00f010"/>
<rect x="4.3" y="492.60" width="16.70" height="5.56" fill="#00ec24"/>
<rect x="4.3" y="497.86" width="16.70" height="5.56" fill="#00e844"/>
<rect x="4.3" y="503.12" width="16.70" height="5.56" fill="#00e878"/>
<rect x="4.3" y="508.38" width="16.70" height="5.56" fill="#00f0b4"/>
<rect x="4.3" y="513.64" width="16.70" height="5.56" fill="#00f0e0"/>
<rect x="4.3" y="518.90" width="16.70" height="5.56" fill="#00f4ff"/>
<rect x="4.3" y="524.16" width="16.70" height="5.56" fill="#00c8ff"/>
<rect x="4.3" y="529.42" width="16.70" height="5.56" fill="#0090ff"/>
<rect x="4.3" y="534.68" width="16.70" height="5.56" fill="#0054ff"/>
<rect x="4.3" y="539.94" width="16.70" height="5.56" fill="#0018f8"/>
<line x1="4.3" y1="445.26" x2="21" y2="445.26" stroke="#000" stroke-opacity="0.55" stroke-width="0.9"/>
<line x1="4.3" y1="450.52" x2="21" y2="450.52" stroke="#000" stroke-opacity="0.55" stroke-width="0.9"/>
<line x1="4.3" y1="455.78" x2="21" y2="455.78" stroke="#000" stroke-opacity="0.55" stroke-width="0.9"/>
<line x1="4.3" y1="461.04" x2="21" y2="461.04" stroke="#000" stroke-opacity="0.55" stroke-width="0.9"/>
<line x1="4.3" y1="466.30" x2="21" y2="466.30" stroke="#000" stroke-opacity="0.55" stroke-width="0.9"/>
<line x1="4.3" y1="471.56" x2="21" y2="471.56" stroke="#000" stroke-opacity="0.55" stroke-width="0.9"/>
<line x1="4.3" y1="476.82" x2="21" y2="476.82" stroke="#000" stroke-opacity="0.55" stroke-width="0.9"/>
<line x1="4.3" y1="482.08" x2="21" y2="482.08" stroke="#000" stroke-opacity="0.55" stroke-width="0.9"/>
<line x1="4.3" y1="487.34" x2="21" y2="487.34" stroke="#000" stroke-opacity="0.55" stroke-width="0.9"/>
<line x1="4.3" y1="492.60" x2="21" y2="492.60" stroke="#000" stroke-opacity="0.55" stroke-width="0.9"/>
<line x1="4.3" y1="497.86" x2="21" y2="497.86" stroke="#000" stroke-opacity="0.55" stroke-width="0.9"/>
<line x1="4.3" y1="503.12" x2="21" y2="503.12" stroke="#000" stroke-opacity="0.55" stroke-width="0.9"/>
<line x1="4.3" y1="508.38" x2="21" y2="508.38" stroke="#000" stroke-opacity="0.55" stroke-width="0.9"/>
<line x1="4.3" y1="513.64" x2="21" y2="513.64" stroke="#000" stroke-opacity="0.55" stroke-width="0.9"/>
<line x1="4.3" y1="518.90" x2="21" y2="518.90" stroke="#000" stroke-opacity="0.55" stroke-width="0.9"/>
<line x1="4.3" y1="524.16" x2="21" y2="524.16" stroke="#000" stroke-opacity="0.55" stroke-width="0.9"/>
<line x1="4.3" y1="529.42" x2="21" y2="529.42" stroke="#000" stroke-opacity="0.55" stroke-width="0.9"/>
<line x1="4.3" y1="534.68" x2="21" y2="534.68" stroke="#000" stroke-opacity="0.55" stroke-width="0.9"/>
<line x1="4.3" y1="539.94" x2="21" y2="539.94" stroke="#000" stroke-opacity="0.55" stroke-width="0.9"/>
<text class="cb" x="4.6" y="437.90" font-size="3.9" textLength="28" lengthAdjust="spacingAndGlyphs">Temperature (K)</text>
<text class="cb" x="23.4" y="443.60" font-size="4.8">×10<tspan font-size="3.2" dy="-1.0">3</tspan></text>
<text class="cb" x="23.4" y="451.42" font-size="5.2">1.65</text>
<text class="cb" x="23.4" y="461.94" font-size="5.2">1.58</text>
<text class="cb" x="23.4" y="472.46" font-size="5.2">1.51</text>
<text class="cb" x="23.4" y="482.98" font-size="5.2">1.44</text>
<text class="cb" x="23.4" y="493.50" font-size="5.2">1.36</text>
<text class="cb" x="23.4" y="504.02" font-size="5.2">1.29</text>
<text class="cb" x="23.4" y="514.54" font-size="5.2">1.22</text>
<text class="cb" x="23.4" y="525.06" font-size="5.2">1.15</text>
<text class="cb" x="23.4" y="535.58" font-size="5.2">1.07</text>
<text class="cb" x="23.4" y="545.20" font-size="5.2">1.00</text>
<rect x="42" y="438.4" width="163" height="108" fill="#f65410"/>
<path d="M42 470 C44 476 46 482 50 486 C70 490 100 496 120 498 C150 501 180 503 205 504 V546.4 H42Z" fill="#f46a12"/>
<path d="M42.3 480 C43.5 488 44.5 496 46.3 502 C60 505 70 507 80 509 C90 511 100 514 103 515.6 C110 517 115 518.5 120 519.5 C140 522 170 524.5 205 526 V546.4 H42Z" fill="#f68416"/>
<path d="M42 505 C44 512 45 516 46.3 517.6 C70 522 100 527 120 530 C150 533.5 180 536 205 537 V546.4 H42Z" fill="#f89a1c"/>
<path d="M42 525 C43 530 44 535 46 539.5 H205 V546.4 H42Z" fill="#f8a81e"/>
<path d="M42 536 C42.5 541 44 543.5 48 543.8 H205 V546.4 H42Z" fill="#f0e400"/>
<path d="M46.3 464.3 C50 468 60 473 80 478.8 C100 484 120 488.5 150 492.4 C170 494.5 190 495.3 205 495.5" fill="none" stroke="#111" stroke-width="1.2"/>
<path d="M42.3 480 C43.5 488 44.5 496 46.3 502 C60 505 70 507 80 509 C90 511 100 514 103 515.6 C110 517 115 518.5 120 519.5 C140 522 170 524.5 205 526" fill="none" stroke="#222" stroke-width="0.6"/>
<path d="M42.5 536 C43 541 45 543 49 543.2 H205" fill="none" stroke="#444" stroke-width="0.6"/>
<path d="M46.3 442.8 H205 M46.3 438.4 V539.5 H205" fill="none" stroke="#111" stroke-width="1.4"/>
<path d="M46.3 448 C47.5 445.5 49.5 443.8 53 443.2 L46.3 443.2Z" fill="#c84a10"/>
<path d="M46.3 448 C47.5 445.5 49.5 443.8 53 443.2" fill="none" stroke="#111" stroke-width="0.9"/>
<rect x="80.1" y="503.1" width="23.10" height="13.10" fill="#fff" stroke="#444" stroke-width="0.8"/>
<text class="lb" x="91.65" y="512.75" font-size="8.6" text-anchor="middle">1655</text>
<path d="M205 442.5 H364.2 V539.6 H205Z" fill="#10e4f8"/>
<path d="M205 480 H300 C296 490 292 494 285 496.6 C260 500 230 503 205 504.3Z" fill="#14e014"/>
<path d="M205 504.3 C230 503 260 500 285 496.6 C292 494 296 490 300 480 L305 480 C302 492 296 500 285 503.3 C260 507 230 510 205 511Z" fill="#28e45c"/>
<path d="M205 511 C230 510 260 507 285 503.3 C296 500 302 492 305 480 L310 480 C308 495 300 508 285 512 C260 516 230 518 205 518.7Z" fill="#20e4a4"/>
<path d="M205 526.4 C240 525 265 523 285 520.6 C293 519 297 516 299 512 C300 520 300 530 301 539.6 H205Z" fill="#10c8ff"/>
<path d="M205 532.2 C240 531 265 530 285 528 C292 527 295 526 296 522 C297 530 298 535 298 539.6 H205Z" fill="#1494ff"/>
<path d="M205 537 C240 536 270 535.5 290 536 C293 537 294 538 294 539.6 H205Z" fill="#0c58f2"/>
<path d="M230 539.6 C240 537.8 270 537.5 285 538 L286 539.6Z" fill="#0a3ce8"/>
<path d="M205 494 L255 494 C252 497 248 498.5 240 499 C232 498 225 499.5 218 498.5 C212 499 208 499 205 499Z" fill="#0ce00c"/>
<path d="M302 492 C304 505 306 520 308 539.6 H312 C311 520 309 505 306 490Z" fill="#14c4ff"/>
<path d="M334.6 482 C334 495 333 504 331 514 C329 523 326 532 320.7 539.6 H364.2 V442.5Z" fill="#22e8b4"/>
<path d="M341.2 479.5 C344 487 345.3 492 345.3 497 C345 508 344 515 342.8 520.5 C340 530 337 535 334.6 539.6 H364.2 V442.5Z" fill="#30e868"/>
<path d="M348.5 476.3 C354 480 358 485 358.4 489.4 C358.5 500 356 510 354.3 517.2 C352 525 350 533 349.4 539.6 H364.2 V442.5Z" fill="#22e83a"/>
<path d="M354.3 471.4 C360 485 363 500 362.5 509 C361 518 357 524 356.7 528.6 C356 532 356 536 355.9 539.6 H364.2 V442.5Z" fill="#10e014"/>
<path d="M364.2 508 C360 514 358.5 524 358.5 539.6 H364.2Z" fill="#a8e020"/>
<path d="M364.2 512 C361 518 360 528 360.5 539.6 H364.2Z" fill="#e8e000"/>
<path d="M364.2 524 C362 528 361.8 534 362 539.6 H364.2Z" fill="#f0a000"/>
<path d="M350 476 C356 473 361 470 364.2 466.3 V477 C360 475 355 476 350 476Z" fill="#d8e010"/>
<path d="M205 504.3 C230 503 260 500 285 496.6 C292 494 296 490 298 489" fill="none" stroke="#1a1a1a" stroke-width="0.5"/>
<path d="M205 511 C230 510 260 507 285 503.3 C296 500 300 495 303 488.5" fill="none" stroke="#1a1a1a" stroke-width="0.5"/>
<path d="M205 518.7 C230 518 260 516 285 512 C298 508 305 498 308 488" fill="none" stroke="#1a1a1a" stroke-width="0.5"/>
<path d="M205 526.4 C240 525 265 523 285 520.6 C293 519 297 516 299 512 C300 520 300 530 301 539.6" fill="none" stroke="#1a1a1a" stroke-width="0.5"/>
<path d="M205 532.2 C240 531 265 530 285 528 C292 527 295 526 296 522" fill="none" stroke="#1a1a1a" stroke-width="0.5"/>
<path d="M255 494 C252 497 248 498.5 240 499 C232 498 225 499.5 218 498.5 C212 499 208 499 205 499" fill="none" stroke="#1a1a1a" stroke-width="0.5"/>
<path d="M334.6 482 C334 495 333 504 331 514 C329 523 326 532 320.7 539.6" fill="none" stroke="#1a1a1a" stroke-width="0.5"/>
<path d="M341.2 479.5 C344 487 345.3 492 345.3 497 C345 508 344 515 342.8 520.5 C340 530 337 535 334.6 539.6" fill="none" stroke="#1a1a1a" stroke-width="0.5"/>
<path d="M348.5 476.3 C354 480 358 485 358.4 489.4 C358.5 500 356 510 354.3 517.2 C352 525 350 533 349.4 539.6" fill="none" stroke="#1a1a1a" stroke-width="0.5"/>
<path d="M354.3 471.4 C360 485 363 500 362.5 509 C361 518 357 524 356.7 528.6 C356 532 356 536 355.9 539.6" fill="none" stroke="#1a1a1a" stroke-width="0.5"/>
<path d="M364.2 508 C360 514 358.5 524 358.5 539.6" fill="none" stroke="#1a1a1a" stroke-width="0.5"/>
<path d="M364.2 512 C361 518 360 528 360.5 539.6" fill="none" stroke="#1a1a1a" stroke-width="0.5"/>
<path d="M205 442.5 H364.2 V466.3 C361 470 356 473 350 475.7 C318 488.5 265 494.3 205 494.5Z" fill="#fff"/>
<path d="M205 494.5 C265 494.3 318 488.5 350 475.7 C356 473 361 470 364.2 466.3" fill="none" stroke="#111" stroke-width="1.1"/>
<path d="M205 442.8 H364.2 M205 539.6 H364.2 M364.2 442.5 V539.6" fill="none" stroke="#111" stroke-width="1.3"/>
<line x1="205" y1="438.4" x2="205" y2="546" stroke="#111" stroke-width="1"/>
<path d="M357 442.3 L364.8 442.3 L364.8 447.5 C363 445 360 443.5 357 443.3Z" fill="#111"/>
<line x1="205" y1="438.6" x2="365" y2="438.6" stroke="#ddd" stroke-width="0.8"/>
<line x1="364.2" y1="438.6" x2="364.2" y2="443" stroke="#111" stroke-width="1"/>
<rect x="260.5" y="508" width="39.50" height="11.50" fill="#fff"/>
<text class="sl" x="280.25" y="517.10" font-size="9.3" text-anchor="middle">1.12 × 10<tspan font-size="6.05" dy="-3.91">8</tspan></text>
<rect x="372" y="441.40" width="19.00" height="10.64" fill="url(#sg0)"/>
<rect x="372" y="451.74" width="19.00" height="10.64" fill="url(#sg1)"/>
<rect x="372" y="462.08" width="19.00" height="10.64" fill="url(#sg2)"/>
<rect x="372" y="472.42" width="19.00" height="10.64" fill="url(#sg3)"/>
<rect x="372" y="482.76" width="19.00" height="10.64" fill="url(#sg4)"/>
<rect x="372" y="493.10" width="19.00" height="10.64" fill="url(#sg5)"/>
<rect x="372" y="503.44" width="19.00" height="10.64" fill="url(#sg6)"/>
<rect x="372" y="513.78" width="19.00" height="10.64" fill="url(#sg7)"/>
<rect x="372" y="524.12" width="19.00" height="10.64" fill="url(#sg8)"/>
<rect x="372" y="534.46" width="19.00" height="10.64" fill="url(#sg9)"/>
<line x1="372" y1="451.74" x2="391" y2="451.74" stroke="#000" stroke-opacity="0.55" stroke-width="0.9"/>
<line x1="372" y1="462.08" x2="391" y2="462.08" stroke="#000" stroke-opacity="0.55" stroke-width="0.9"/>
<line x1="372" y1="472.42" x2="391" y2="472.42" stroke="#000" stroke-opacity="0.55" stroke-width="0.9"/>
<line x1="372" y1="482.76" x2="391" y2="482.76" stroke="#000" stroke-opacity="0.55" stroke-width="0.9"/>
<line x1="372" y1="493.10" x2="391" y2="493.10" stroke="#000" stroke-opacity="0.55" stroke-width="0.9"/>
<line x1="372" y1="503.44" x2="391" y2="503.44" stroke="#000" stroke-opacity="0.55" stroke-width="0.9"/>
<line x1="372" y1="513.78" x2="391" y2="513.78" stroke="#000" stroke-opacity="0.55" stroke-width="0.9"/>
<line x1="372" y1="524.12" x2="391" y2="524.12" stroke="#000" stroke-opacity="0.55" stroke-width="0.9"/>
<line x1="372" y1="534.46" x2="391" y2="534.46" stroke="#000" stroke-opacity="0.55" stroke-width="0.9"/>
<text class="cb" x="372" y="438.30" font-size="4.6" textLength="33" lengthAdjust="spacingAndGlyphs">vonMisesStress</text>
<text class="cb" x="392.5" y="444.00" font-size="4.0">(N/m<tspan font-size="2.6" dy="-1.4">2</tspan><tspan dy="1.4">)</tspan></text>
<text class="cb" x="392.8" y="452.34" font-size="4.9">3.56×10<tspan font-size="3.3" dy="-1.6">8</tspan></text>
<text class="cb" x="392.8" y="462.68" font-size="4.9">3.17×10<tspan font-size="3.3" dy="-1.6">8</tspan></text>
<text class="cb" x="392.8" y="473.02" font-size="4.9">2.77×10<tspan font-size="3.3" dy="-1.6">8</tspan></text>
<text class="cb" x="392.8" y="483.36" font-size="4.9">2.36×10<tspan font-size="3.3" dy="-1.6">8</tspan></text>
<text class="cb" x="392.8" y="493.70" font-size="4.9">1.98×10<tspan font-size="3.3" dy="-1.6">8</tspan></text>
<text class="cb" x="392.8" y="504.04" font-size="4.9">1.59×10<tspan font-size="3.3" dy="-1.6">8</tspan></text>
<text class="cb" x="392.8" y="514.38" font-size="4.9">1.19×10<tspan font-size="3.3" dy="-1.6">8</tspan></text>
<text class="cb" x="392.8" y="524.72" font-size="4.9">8.01×10<tspan font-size="3.3" dy="-1.6">7</tspan></text>
<text class="cb" x="392.8" y="535.06" font-size="4.9">4.06×10<tspan font-size="3.3" dy="-1.6">7</tspan></text>
<text class="cb" x="392.8" y="544.40" font-size="4.9">1.22×10<tspan font-size="3.3" dy="-1.6">6</tspan></text>
</svg></body></html>
